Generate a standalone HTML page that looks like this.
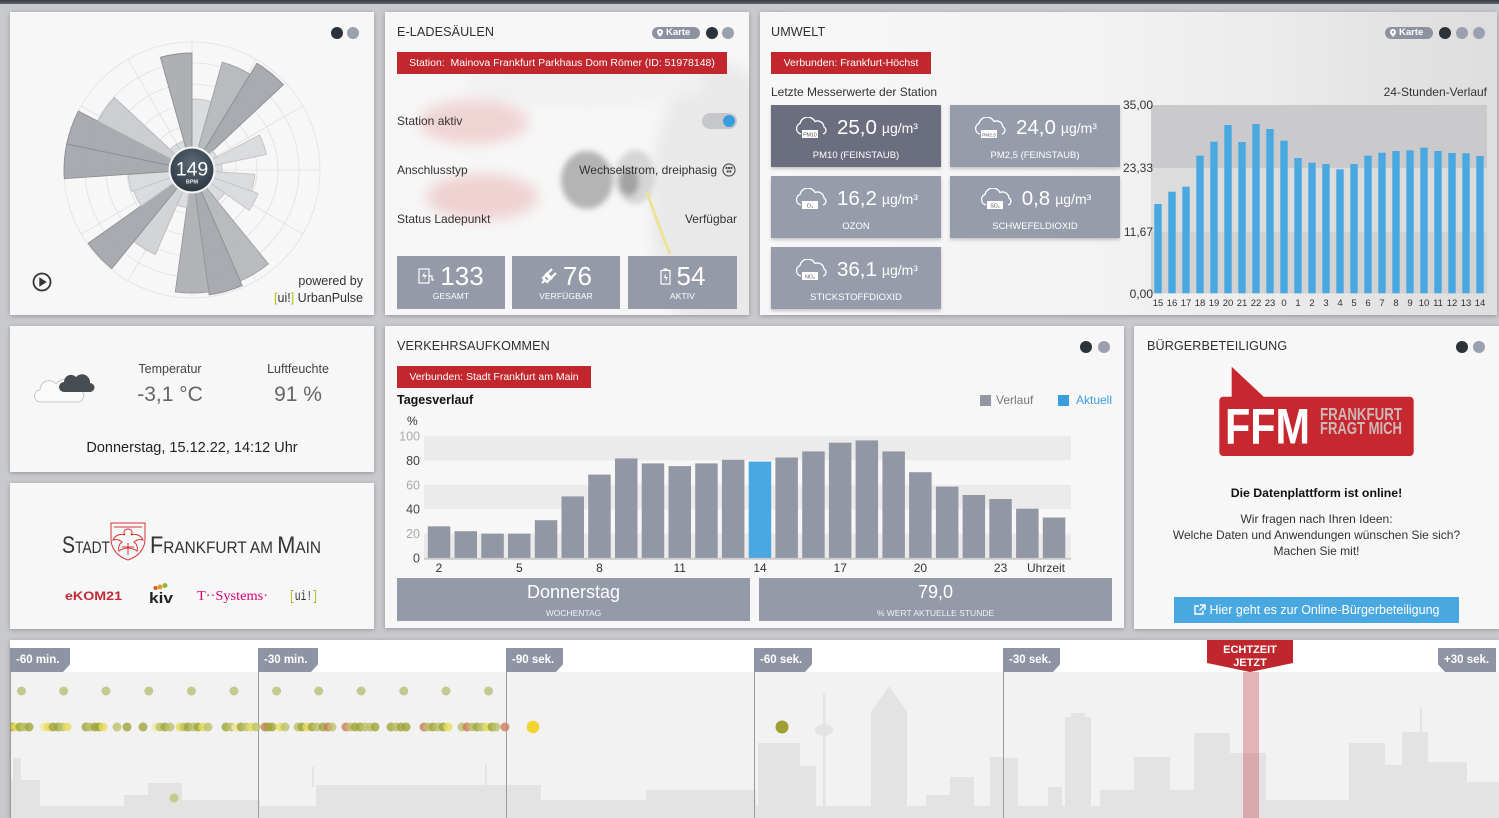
<!DOCTYPE html>
<html lang="de"><head><meta charset="utf-8"><title>Dashboard</title>
<style>
*{margin:0;padding:0;box-sizing:border-box}
html,body{width:1499px;height:818px;overflow:hidden}
body{background:#c8c9cd;font-family:"Liberation Sans",Arial,sans-serif;color:#333;position:relative}
.top{position:absolute;left:0;top:0;width:1499px;height:4px;background:linear-gradient(#353a40,#61666c)}
.p{position:absolute;background:#f7f7f7;box-shadow:0 1px 4px rgba(0,0,0,.25);overflow:hidden}
.a{position:absolute;white-space:nowrap;line-height:1}
.ttl{font-size:12.6px;color:#2f2f2f;letter-spacing:.1px}
.red{position:absolute;background:#c1272d;color:#fff;font-size:10.5px;text-align:center;line-height:22px;height:22px;white-space:nowrap}
.pill{position:absolute;height:12px;border-radius:6px;background:#8d92a0;color:#fff;font-size:9.5px;font-weight:bold;line-height:12px;padding-left:14px}
.pill svg{position:absolute;left:5px;top:2px}
.dot{position:absolute;width:12px;height:12px;border-radius:50%}
.dk{background:#2b323a}.gr{background:#9aa0ad}
.box{position:absolute;background:#959aa8;color:#fff;text-align:center}
.box .n{position:absolute;left:0;right:0;top:7px;height:26px;display:flex;justify-content:center;align-items:center;font-size:26px;line-height:1}
.box .n svg{margin-right:6px}
.box .l{position:absolute;left:0;right:0;top:36px;font-size:8.5px;line-height:1;letter-spacing:.1px}
.tile{position:absolute;background:#979cab;color:#fff;box-shadow:0 2px 3px rgba(0,0,0,.2);width:170px;height:62px}
.tile .v{position:absolute;left:0;right:0;top:12px;height:22px;display:flex;justify-content:center;align-items:center;line-height:1;white-space:nowrap}
.tile .v b{font-weight:normal;font-size:20.5px}
.tile .v i{font-style:normal;font-size:14px;margin-left:5px}
.tile .v svg{margin-right:7px}
.tile .l{position:absolute;left:0;right:0;top:46px;font-size:9.5px;text-align:center;line-height:1}
.tab{position:absolute;top:8px;height:24px;background:#8e94a3;color:#fff;font-weight:bold;font-size:11.5px;line-height:24px;padding-left:6px;white-space:nowrap;clip-path:polygon(0 0,100% 0,100% 68%,calc(100% - 7px) 100%,0 100%)}
.row{font-size:12px;color:#333}
.gbox{position:absolute;background:#959aa8;color:#fff;text-align:center;height:43px;width:353px;top:252px}
</style></head>
<body>
<div class="top"></div>

<!-- Panel 1: rose -->
<div class="p" style="left:10px;top:12px;width:364px;height:303px">
<svg width="364" height="303" style="position:absolute;left:0;top:0">
<defs><radialGradient id="bg1" cx="50%" cy="35%" r="65%"><stop offset="0" stop-color="#5b6a77"/><stop offset="1" stop-color="#2c3842"/></radialGradient></defs>
<g transform="translate(0,3)">
<g stroke="#e0e0e0" stroke-width="0.8" fill="none">
<circle cx="182" cy="155" r="128"/><circle cx="182" cy="155" r="107"/><circle cx="182" cy="155" r="86"/><circle cx="182" cy="155" r="65"/><circle cx="182" cy="155" r="44"/>
<line x1="182" y1="27" x2="182" y2="283"/><line x1="246" y1="44.2" x2="118" y2="265.8"/><line x1="292.8" y1="91" x2="71.2" y2="219"/><line x1="310" y1="155" x2="54" y2="155"/><line x1="292.8" y1="219" x2="71.2" y2="91"/><line x1="246" y1="265.8" x2="118" y2="44.2"/>
</g>
<g stroke-width="0.9" fill-opacity="0.92">
<path d="M182 155L182 84A71 71 0 0 1 201.2 86.6Z" fill="#d8d9db" stroke="#c2c3c6"/>
<path d="M182 155L212.2 47.2A112 112 0 0 1 240.2 59.3Z" fill="#b3b5b9" stroke="#9ea0a4"/>
<path d="M182 155L247 48.2A125 125 0 0 1 273.4 69.7Z" fill="#a2a4a9" stroke="#8d8f94"/>
<path d="M182 155L202.5 135.9A28 28 0 0 1 206.9 142.1Z" fill="#d8d9db" stroke="#c2c3c6"/>
<path d="M182 155L249.5 120A76 76 0 0 1 256.4 139.5Z" fill="#d8d9db" stroke="#c2c3c6"/>
<path d="M182 155L211.4 148.9A30 30 0 0 1 211.9 157Z" fill="#d8d9db" stroke="#c2c3c6"/>
<path d="M182 155L244.9 159.3A63 63 0 0 1 241.4 176.1Z" fill="#d8d9db" stroke="#c2c3c6"/>
<path d="M182 155L248 178.4A70 70 0 0 1 239.2 195.4Z" fill="#d8d9db" stroke="#c2c3c6"/>
<path d="M182 155L214.7 178.1A40 40 0 0 1 207.2 186Z" fill="#d8d9db" stroke="#c2c3c6"/>
<path d="M182 155L258.4 248.9A121 121 0 0 1 230.2 266Z" fill="#b3b5b9" stroke="#9ea0a4"/>
<path d="M182 155L232.2 270.6A126 126 0 0 1 199.2 279.8Z" fill="#a2a4a9" stroke="#8d8f94"/>
<path d="M182 155L198.8 276.9A123 123 0 0 1 165.3 276.9Z" fill="#aaacb1" stroke="#96989c"/>
<path d="M182 155L176.8 192.7A38 38 0 0 1 166.9 189.9Z" fill="#d8d9db" stroke="#c2c3c6"/>
<path d="M182 155L145.4 239.4A92 92 0 0 1 123.9 226.4Z" fill="#cfd0d3" stroke="#b9babd"/>
<path d="M182 155L101.9 253.5A127 127 0 0 1 78.2 228.2Z" fill="#a2a4a9" stroke="#8d8f94"/>
<path d="M182 155L131.4 190.8A62 62 0 0 1 123.6 175.8Z" fill="#d8d9db" stroke="#c2c3c6"/>
<path d="M182 155L121.7 176.4A64 64 0 0 1 118.2 159.4Z" fill="#d8d9db" stroke="#c2c3c6"/>
<path d="M182 155L54.3 163.7A128 128 0 0 1 56.7 129Z" fill="#a2a4a9" stroke="#8d8f94"/>
<path d="M182 155L56.7 129A128 128 0 0 1 68.4 96.1Z" fill="#a2a4a9" stroke="#8d8f94"/>
<path d="M182 155L87.9 106.2A106 106 0 0 1 104.5 82.6Z" fill="#c9cacd" stroke="#b3b4b7"/>
<path d="M182 155L160.1 134.5A30 30 0 0 1 166.4 129.4Z" fill="#d8d9db" stroke="#c2c3c6"/>
<path d="M182 155L166.4 129.4A30 30 0 0 1 173.9 126.1Z" fill="#d8d9db" stroke="#c2c3c6"/>
<path d="M182 155L150.4 42.3A117 117 0 0 1 182 38Z" fill="#a7a9ae" stroke="#8d8f94"/>
</g>
<circle cx="182" cy="155" r="23.5" fill="#f4f4f4"/>
<circle cx="182" cy="155" r="21.5" fill="url(#bg1)"/>
<text x="182" y="160.5" text-anchor="middle" font-family="Liberation Sans,sans-serif" font-size="19.5" fill="#fff">149</text>
<text x="182" y="168.5" text-anchor="middle" font-family="Liberation Sans,sans-serif" font-size="5.5" font-weight="bold" fill="#e8e8e8">BPM</text>
</g>
<circle cx="327" cy="21" r="6" fill="#2b323a"/><circle cx="343" cy="21" r="6" fill="#9aa0ad"/>
<circle cx="32" cy="270" r="8.5" stroke="#333" stroke-width="1.8" fill="none"/><path d="M29.3 265.3L36.8 270L29.3 274.7Z" fill="#333"/>
</svg>
<div class="a" style="right:11px;top:263px;font-size:12.5px;color:#333">powered by</div>
<div class="a" style="right:11px;top:280px;font-size:12.5px;color:#333"><span style="color:#b5c200">[</span>ui!<span style="color:#b5c200">]</span> UrbanPulse</div>
</div>

<!-- Panel 2: E-Ladesäulen -->
<div class="p" style="left:385px;top:12px;width:364px;height:303px">
<svg width="364" height="303" style="position:absolute;left:0;top:0">
<defs><filter id="bl" x="-50%" y="-50%" width="200%" height="200%"><feGaussianBlur stdDeviation="7"/></filter><filter id="bl2" x="-50%" y="-50%" width="200%" height="200%"><feGaussianBlur stdDeviation="3"/></filter></defs>
<g filter="url(#bl)">
<ellipse cx="335" cy="190" rx="70" ry="140" fill="#e9e9e9"/>
<ellipse cx="200" cy="70" rx="120" ry="25" fill="#f1f1f1"/>
<ellipse cx="88" cy="110" rx="55" ry="22" fill="#f0d3d3"/>
<ellipse cx="97" cy="185" rx="56" ry="23" fill="#efd1d1"/>
</g>
<g filter="url(#bl2)">
<ellipse cx="202" cy="168" rx="26" ry="29" fill="#b4b4b4"/>
<ellipse cx="250" cy="165" rx="20" ry="27" fill="#d6d6d6"/>
<ellipse cx="244" cy="170" rx="10" ry="14" fill="#a3a3a3"/>
</g>
<path d="M262 180 Q272 210 285 242" stroke="#ebe39a" stroke-width="3" fill="none"/>
<circle cx="327" cy="21" r="6" fill="#2b323a"/><circle cx="343" cy="21" r="6" fill="#9aa0ad"/>
</svg>
<div class="a ttl" style="left:12px;top:14px">E-LADESÄULEN</div>
<div class="pill" style="left:267px;top:15px;width:48px"><svg width="6" height="8"><path d="M3 0a3 3 0 0 1 3 3c0 2-3 5-3 5s-3-3-3-5a3 3 0 0 1 3-3z" fill="#fff"/><circle cx="3" cy="3" r="1.1" fill="#8d92a0"/></svg>Karte</div>
<div class="red" style="left:12px;top:40px;width:330px">Station:&nbsp; Mainova Frankfurt Parkhaus Dom Römer (ID: 51978148)</div>
<div class="a row" style="left:12px;top:103px">Station aktiv</div>
<div style="position:absolute;left:317px;top:101px;width:35px;height:16px;border-radius:8px;background:#c6c7ca"></div>
<div style="position:absolute;left:338px;top:103px;width:12px;height:12px;border-radius:50%;background:#3a9de0"></div>
<div class="a row" style="left:12px;top:152px">Anschlusstyp</div>
<div class="a row" style="right:32px;top:152px">Wechselstrom, dreiphasig</div>
<svg style="position:absolute;left:337px;top:151px" width="14" height="14"><circle cx="7" cy="7" r="6" fill="none" stroke="#555" stroke-width="1.2"/><g fill="#555"><circle cx="4.5" cy="5" r="1.2"/><circle cx="7" cy="5" r="1.2"/><circle cx="9.5" cy="5" r="1.2"/><circle cx="5.7" cy="8.5" r="1.2"/><circle cx="8.3" cy="8.5" r="1.2"/></g></svg>
<div class="a row" style="left:12px;top:201px">Status Ladepunkt</div>
<div class="a row" style="right:12px;top:201px">Verfügbar</div>
<div class="box" style="left:12px;top:244px;width:108px;height:53px"><div class="n"><svg width="16" height="17"><rect x="1" y="1" width="10" height="14" fill="none" stroke="#fff" stroke-width="1.2"/><path d="M7 3L4 8.5h3L5 13l4-6H6z" fill="#fff"/><path d="M11 8h3v4h2" stroke="#fff" fill="none" stroke-width="1.2"/></svg>133</div><div class="l">GESAMT</div></div>
<div class="box" style="left:127px;top:244px;width:108px;height:53px"><div class="n"><svg width="17" height="17"><path d="M2 15l4-4M6 7l4 4-3 3-4-4zM8 5l4-4M12 9l4-4" stroke="#fff" stroke-width="2.2" fill="none"/><path d="M5 6l6 6 2-2-6-6z" fill="#fff"/></svg>76</div><div class="l">VERFÜGBAR</div></div>
<div class="box" style="left:243px;top:244px;width:109px;height:53px"><div class="n"><svg width="11" height="17"><rect x="1" y="2.5" width="9" height="13.5" fill="none" stroke="#fff" stroke-width="1.2"/><rect x="3.5" y="0.5" width="4" height="2" fill="#fff"/><path d="M6 5L3.5 10h2.5L5 14l3-5H5.5z" fill="#fff"/></svg>54</div><div class="l">AKTIV</div></div>
</div>

<!-- Panel 3: Umwelt -->
<div class="p" style="left:760px;top:12px;width:737px;height:303px;background:linear-gradient(90deg,#f7f7f7 0%,#f3f3f3 45%,#ebebeb 70%,#e2e2e2 88%,#dedede 100%)">
<div class="a ttl" style="left:11px;top:14px">UMWELT</div>
<div class="red" style="left:11px;top:40px;width:160px">Verbunden: Frankfurt-Höchst</div>
<div class="a" style="left:11px;top:74px;font-size:12px">Letzte Messerwerte der Station</div>
<div class="pill" style="left:625px;top:15px;width:48px"><svg width="6" height="8"><path d="M3 0a3 3 0 0 1 3 3c0 2-3 5-3 5s-3-3-3-5a3 3 0 0 1 3-3z" fill="#fff"/><circle cx="3" cy="3" r="1.1" fill="#8d92a0"/></svg>Karte</div>
<div class="dot dk" style="left:679px;top:15px"></div><div class="dot gr" style="left:696px;top:15px"></div><div class="dot gr" style="left:713px;top:15px"></div>

<div class="tile" style="left:11px;top:93px;background:#6b6e7e"><div class="v"><svg width="36" height="22"><path d="M7 17a5.5 5.5 0 0 1 -1-10.5a8 8 0 0 1 15-2a6.5 6.5 0 0 1 9 5.5a3.8 3.8 0 0 1 -1 7" fill="none" stroke="#fff" stroke-width="1.3"/><rect x="8" y="13" width="16" height="8" fill="#fff"/><text x="16" y="19.3" font-size="5.2" text-anchor="middle" fill="#555" font-family="Liberation Sans">PM10</text></svg><b>25,0</b><i>µg/m³</i></div><div class="l">PM10 (FEINSTAUB)</div></div>
<div class="tile" style="left:190px;top:93px"><div class="v"><svg width="36" height="22"><path d="M7 17a5.5 5.5 0 0 1 -1-10.5a8 8 0 0 1 15-2a6.5 6.5 0 0 1 9 5.5a3.8 3.8 0 0 1 -1 7" fill="none" stroke="#fff" stroke-width="1.3"/><rect x="8" y="13" width="16" height="8" fill="#fff"/><text x="16" y="19.3" font-size="4.8" text-anchor="middle" fill="#555" font-family="Liberation Sans">PM2.5</text></svg><b>24,0</b><i>µg/m³</i></div><div class="l">PM2,5 (FEINSTAUB)</div></div>
<div class="tile" style="left:11px;top:164px"><div class="v"><svg width="36" height="22"><path d="M7 17a5.5 5.5 0 0 1 -1-10.5a8 8 0 0 1 15-2a6.5 6.5 0 0 1 9 5.5a3.8 3.8 0 0 1 -1 7" fill="none" stroke="#fff" stroke-width="1.3"/><rect x="8" y="13" width="16" height="8" fill="#fff"/><text x="16" y="19.3" font-size="5.2" text-anchor="middle" fill="#555" font-family="Liberation Sans">O₃</text></svg><b>16,2</b><i>µg/m³</i></div><div class="l">OZON</div></div>
<div class="tile" style="left:190px;top:164px"><div class="v"><svg width="36" height="22"><path d="M7 17a5.5 5.5 0 0 1 -1-10.5a8 8 0 0 1 15-2a6.5 6.5 0 0 1 9 5.5a3.8 3.8 0 0 1 -1 7" fill="none" stroke="#fff" stroke-width="1.3"/><rect x="8" y="13" width="16" height="8" fill="#fff"/><text x="16" y="19.3" font-size="5.2" text-anchor="middle" fill="#555" font-family="Liberation Sans">SO₂</text></svg><b>0,8</b><i>µg/m³</i></div><div class="l">SCHWEFELDIOXID</div></div>
<div class="tile" style="left:11px;top:235px"><div class="v"><svg width="36" height="22"><path d="M7 17a5.5 5.5 0 0 1 -1-10.5a8 8 0 0 1 15-2a6.5 6.5 0 0 1 9 5.5a3.8 3.8 0 0 1 -1 7" fill="none" stroke="#fff" stroke-width="1.3"/><rect x="8" y="13" width="16" height="8" fill="#fff"/><text x="16" y="19.3" font-size="5.2" text-anchor="middle" fill="#555" font-family="Liberation Sans">NO₂</text></svg><b>36,1</b><i>µg/m³</i></div><div class="l">STICKSTOFFDIOXID</div></div>

<svg width="737" height="303" style="position:absolute;left:0;top:0" font-family="Liberation Sans,sans-serif">
<rect x="391" y="93" width="336" height="63" fill="#cacacc"/>
<rect x="391" y="156" width="336" height="64" fill="#dcdcdd"/>
<rect x="391" y="220" width="336" height="61.3" fill="#d2d2d3"/>
<g fill="#49a7e1">
<rect x="394.3" y="192" width="7.4" height="89.3"/><rect x="408.3" y="179.7" width="7.4" height="101.6"/><rect x="422.3" y="174.7" width="7.4" height="106.6"/><rect x="436.3" y="143.7" width="7.4" height="137.6"/><rect x="450.3" y="129.7" width="7.4" height="151.6"/><rect x="464.3" y="113" width="7.4" height="168.3"/><rect x="478.3" y="130" width="7.4" height="151.3"/><rect x="492.3" y="112" width="7.4" height="169.3"/><rect x="506.3" y="117" width="7.4" height="164.3"/><rect x="520.3" y="128.7" width="7.4" height="152.6"/><rect x="534.3" y="146" width="7.4" height="135.3"/><rect x="548.3" y="150.7" width="7.4" height="130.6"/><rect x="562.3" y="152" width="7.4" height="129.3"/><rect x="576.3" y="157.3" width="7.4" height="124"/><rect x="590.3" y="152" width="7.4" height="129.3"/><rect x="604.3" y="143.7" width="7.4" height="137.6"/><rect x="618.3" y="140.7" width="7.4" height="140.6"/><rect x="632.3" y="139" width="7.4" height="142.3"/><rect x="646.3" y="138.3" width="7.4" height="143"/><rect x="660.3" y="135.7" width="7.4" height="145.6"/><rect x="674.3" y="139" width="7.4" height="142.3"/><rect x="688.3" y="141" width="7.4" height="140.3"/><rect x="702.3" y="141.3" width="7.4" height="140"/><rect x="716.3" y="144" width="7.4" height="137.3"/>
</g>
<g font-size="12" fill="#333" text-anchor="end">
<text x="393" y="97">35,00</text><text x="393" y="160">23,33</text><text x="393" y="224">11,67</text><text x="393" y="286">0,00</text>
</g>
<text x="727" y="84" font-size="12" fill="#333" text-anchor="end">24-Stunden-Verlauf</text>
<g font-size="9.5" fill="#333" text-anchor="middle">
<text x="398" y="294">15</text><text x="412" y="294">16</text><text x="426" y="294">17</text><text x="440" y="294">18</text><text x="454" y="294">19</text><text x="468" y="294">20</text><text x="482" y="294">21</text><text x="496" y="294">22</text><text x="510" y="294">23</text><text x="524" y="294">0</text><text x="538" y="294">1</text><text x="552" y="294">2</text><text x="566" y="294">3</text><text x="580" y="294">4</text><text x="594" y="294">5</text><text x="608" y="294">6</text><text x="622" y="294">7</text><text x="636" y="294">8</text><text x="650" y="294">9</text><text x="664" y="294">10</text><text x="678" y="294">11</text><text x="692" y="294">12</text><text x="706" y="294">13</text><text x="720" y="294">14</text>
</g>
</svg>
</div>

<!-- Weather -->
<div class="p" style="left:10px;top:326px;width:364px;height:146px">
<svg width="100" height="90" style="position:absolute;left:0;top:0">
<path d="M31 76a6 6 0 0 1 -1-12a9 9 0 0 1 16-6a11 11 0 0 1 20 5a6.5 6.5 0 0 1 2 13Z" fill="#fafafa" stroke="#c9c9c9" stroke-width="1"/>
<path d="M54 66a5 5 0 0 1 0-10a7 7 0 0 1 12-5a8 8 0 0 1 14 6a4.5 4.5 0 0 1 0 9Z" fill="#474c52"/>
</svg>
<div class="a" style="left:110px;width:100px;text-align:center;top:37px;font-size:12.5px;color:#444">Temperatur</div>
<div class="a" style="left:100px;width:120px;text-align:center;top:58px;font-size:21px;color:#666">-3,1 °C</div>
<div class="a" style="left:238px;width:100px;text-align:center;top:37px;font-size:12.5px;color:#444">Luftfeuchte</div>
<div class="a" style="left:228px;width:120px;text-align:center;top:58px;font-size:21px;color:#666">91 %</div>
<div class="a" style="left:0;width:364px;text-align:center;top:115px;font-size:14.5px;color:#222">Donnerstag, 15.12.22, 14:12 Uhr</div>
</div>

<!-- Logos -->
<div class="p" style="left:10px;top:483px;width:364px;height:146px">
<svg width="364" height="146" style="position:absolute;left:0;top:0">
<text x="52" y="70" font-family="Liberation Sans,sans-serif" fill="#333" textLength="48" lengthAdjust="spacingAndGlyphs"><tspan font-size="24">S</tspan><tspan font-size="17">TADT</tspan></text>
<g stroke="#d2353a" fill="none" stroke-width="1">
<path d="M101 40h34v16c0 11-8 18-17 21c-9-3-17-10-17-21z"/>
<path d="M118 46c-4 0-5 4-3 6c-6-2-10 1-12 5c4-1 7 0 9 2c-3 2-4 6-3 9c3-2 6-3 9-3c3 0 6 1 9 3c1-3 0-7-3-9c2-2 5-3 9-2c-2-4-6-7-12-5c2-2 1-6-3-6z"/>
<path d="M104 44h28M118 60v12M112 64h12"/>
</g>
<text x="140" y="70" font-family="Liberation Sans,sans-serif" fill="#333" textLength="171" lengthAdjust="spacingAndGlyphs"><tspan font-size="24">F</tspan><tspan font-size="17">RANKFURT </tspan><tspan font-size="17">AM </tspan><tspan font-size="24">M</tspan><tspan font-size="17">AIN</tspan></text>
<text x="55" y="117" font-family="Liberation Sans,sans-serif" font-size="12" font-weight="bold" fill="#c22a35" textLength="57" lengthAdjust="spacingAndGlyphs">eKOM21</text>
<circle cx="150" cy="104" r="2.5" fill="#e89a2c"/><circle cx="155" cy="102.5" r="2.5" fill="#8fb83a"/><circle cx="145.5" cy="105" r="2" fill="#d9572b"/>
<text x="139" y="120" font-family="Liberation Sans,sans-serif" font-size="15" font-weight="bold" fill="#222" textLength="24" lengthAdjust="spacingAndGlyphs">kiv</text>
<text x="187" y="117" font-family="Liberation Serif,serif" font-size="14" fill="#d6006f" textLength="71" lengthAdjust="spacingAndGlyphs">T··Systems·</text>
<text x="279" y="117" font-family="Liberation Mono,monospace" font-size="14" fill="#333" textLength="29" lengthAdjust="spacingAndGlyphs"><tspan fill="#a9b30a">[</tspan>ui!<tspan fill="#a9b30a">]</tspan></text>
</svg>
</div>

<!-- Verkehr -->
<div class="p" style="left:385px;top:326px;width:739px;height:302px">
<div class="a ttl" style="left:12px;top:14px">VERKEHRSAUFKOMMEN</div>
<div class="dot dk" style="left:695px;top:15px"></div><div class="dot gr" style="left:713px;top:15px"></div>
<div class="red" style="left:12px;top:40px;width:194px">Verbunden: Stadt Frankfurt am Main</div>
<div class="a" style="left:12px;top:68px;font-size:12.5px;font-weight:bold;color:#111">Tagesverlauf</div>
<div style="position:absolute;left:595px;top:69px;width:11px;height:11px;background:#9297a4"></div>
<div class="a" style="left:611px;top:68px;font-size:12px;color:#777">Verlauf</div>
<div style="position:absolute;left:673px;top:69px;width:11px;height:11px;background:#3a9de0"></div>
<div class="a" style="left:691px;top:68px;font-size:12px;color:#3a9de0">Aktuell</div>
<svg width="739" height="302" style="position:absolute;left:0;top:0" font-family="Liberation Sans,sans-serif">
<text x="22" y="99" font-size="12" fill="#333">%</text>
<rect x="39" y="110" width="647" height="24.4" fill="#ebebeb"/>
<rect x="39" y="158.8" width="647" height="24.4" fill="#ebebeb"/>
<rect x="39" y="207.6" width="647" height="24.4" fill="#ebebeb"/>
<g font-size="12.5" text-anchor="end">
<text x="35" y="114.5" fill="#aaa">100</text><text x="35" y="138.9" fill="#444">80</text><text x="35" y="163.3" fill="#aaa">60</text><text x="35" y="187.7" fill="#444">40</text><text x="35" y="212.1" fill="#aaa">20</text><text x="35" y="236.5" fill="#444">0</text>
</g>
<g fill="#9297a4">
<rect x="42.8" y="200.3" width="22.5" height="31.7"/><rect x="69.5" y="205.2" width="22.5" height="26.8"/><rect x="96.3" y="207.6" width="22.5" height="24.4"/><rect x="123" y="207.6" width="22.5" height="24.4"/><rect x="149.8" y="194.2" width="22.5" height="37.8"/><rect x="176.5" y="170.4" width="22.5" height="61.6"/><rect x="203.2" y="148.6" width="22.5" height="83.4"/><rect x="230" y="132.4" width="22.5" height="99.6"/><rect x="256.7" y="137.4" width="22.5" height="94.6"/><rect x="283.5" y="140.1" width="22.5" height="91.9"/><rect x="310.2" y="137.4" width="22.5" height="94.6"/><rect x="336.9" y="133.8" width="22.5" height="98.2"/><rect x="390.4" y="131.5" width="22.5" height="100.5"/><rect x="417.2" y="125.4" width="22.5" height="106.6"/><rect x="443.9" y="116.7" width="22.5" height="115.3"/><rect x="470.6" y="114.4" width="22.5" height="117.6"/><rect x="497.4" y="125.4" width="22.5" height="106.6"/><rect x="524.1" y="146.2" width="22.5" height="85.8"/><rect x="550.9" y="160.6" width="22.5" height="71.4"/><rect x="577.6" y="169" width="22.5" height="63"/><rect x="604.3" y="173" width="22.5" height="59"/><rect x="631.1" y="182.7" width="22.5" height="49.3"/><rect x="657.8" y="191.5" width="22.5" height="40.5"/>
</g>
<rect x="363.7" y="135.6" width="22.5" height="96.4" fill="#49a7e1"/>
<line x1="39" y1="232.8" x2="686" y2="232.8" stroke="#cacaca" stroke-width="1.8"/>
<g font-size="12" fill="#333" text-anchor="middle">
<text x="54" y="246">2</text><text x="134.3" y="246">5</text><text x="214.5" y="246">8</text><text x="294.7" y="246">11</text><text x="375" y="246">14</text><text x="455.2" y="246">17</text><text x="535.4" y="246">20</text><text x="615.6" y="246">23</text><text x="661" y="246">Uhrzeit</text>
</g>
</svg>
<div class="gbox" style="left:12px"><div class="a" style="left:0;right:0;top:5px;font-size:18px">Donnerstag</div><div class="a" style="left:0;right:0;top:31px;font-size:8.5px;color:#eef0f4">WOCHENTAG</div></div>
<div class="gbox" style="left:374px"><div class="a" style="left:0;right:0;top:5px;font-size:18px">79,0</div><div class="a" style="left:0;right:0;top:31px;font-size:8.5px;color:#eef0f4">% WERT AKTUELLE STUNDE</div></div>
</div>

<!-- Bürgerbeteiligung -->
<div class="p" style="left:1134px;top:326px;width:365px;height:303px">
<div class="a ttl" style="left:13px;top:14px">BÜRGERBETEILIGUNG</div>
<div class="dot dk" style="left:322px;top:15px"></div><div class="dot gr" style="left:339px;top:15px"></div>
<svg width="365" height="140" style="position:absolute;left:0;top:0" font-family="Liberation Sans,sans-serif">
<path d="M97.7 40.7L97.7 72L131 72Z" fill="#c7282f"/>
<rect x="85.3" y="70.7" width="194.4" height="59.3" rx="4" fill="#c7282f"/>
<text x="91" y="117.3" font-size="50" font-weight="bold" fill="#fff" textLength="85" lengthAdjust="spacingAndGlyphs">FFM</text>
<text x="186" y="94" font-size="17.5" font-weight="bold" fill="#cdb8b9" textLength="82" lengthAdjust="spacingAndGlyphs">FRANKFURT</text>
<text x="186" y="108" font-size="17.5" font-weight="bold" fill="#cdb8b9" textLength="82" lengthAdjust="spacingAndGlyphs">FRAGT MICH</text>
</svg>
<div class="a" style="left:0;width:365px;text-align:center;top:161px;font-size:12.3px;font-weight:bold;color:#111">Die Datenplattform ist online!</div>
<div class="a" style="left:0;width:365px;text-align:center;top:187px;font-size:12px;color:#333">Wir fragen nach Ihren Ideen:</div>
<div class="a" style="left:0;width:365px;text-align:center;top:203px;font-size:12px;color:#333">Welche Daten und Anwendungen wünschen Sie sich?</div>
<div class="a" style="left:0;width:365px;text-align:center;top:219px;font-size:12px;color:#333">Machen Sie mit!</div>
<div style="position:absolute;left:40px;top:271px;width:285px;height:26px;background:#4aa8e0;color:#fff;font-size:12.5px;line-height:26px;text-align:center;white-space:nowrap"><svg width="12" height="11" style="vertical-align:-1px;margin-right:4px"><path d="M9 6.5V10H1V2h4" fill="none" stroke="#fff" stroke-width="1.4"/><path d="M6 1h5v5M11 1L5.5 6.5" fill="none" stroke="#fff" stroke-width="1.4"/></svg>Hier geht es zur Online-Bürgerbeteiligung</div>
</div>

<!-- Timeline -->
<div class="p" style="left:10px;top:640px;width:1489px;height:178px;background:#fff">
<svg width="1489" height="178" style="position:absolute;left:0;top:0">
<rect x="0" y="32" width="1489" height="146" fill="#f2f2f2"/>
<g fill="#e3e3e3">
<rect x="0" y="140" width="30" height="38"/><rect x="3" y="118" width="8" height="22"/>
<rect x="114" y="155" width="29" height="23"/><rect x="138" y="143" width="34" height="35"/><rect x="172" y="160" width="78" height="18"/>
<rect x="306" y="145" width="225" height="33"/><rect x="302" y="127" width="2" height="20"/><rect x="475" y="125" width="2" height="22"/>
<rect x="531" y="160" width="105" height="18"/><rect x="636" y="150" width="110" height="28"/>
<rect x="748" y="103" width="42" height="75"/><rect x="790" y="126" width="16" height="52"/>
<rect x="813" y="53" width="2.5" height="125"/><ellipse cx="814" cy="90" rx="9" ry="5.5"/>
<rect x="861" y="72" width="36" height="106"/><path d="M861 72L879 46L897 72Z"/>
<rect x="916" y="155" width="24" height="23"/><rect x="940" y="137" width="24" height="41"/>
<rect x="980" y="117" width="13" height="61"/><rect x="993" y="118" width="15" height="60"/>
<rect x="1038" y="147" width="14" height="31"/><rect x="1055" y="77" width="26" height="101"/><rect x="1061" y="73" width="14" height="5"/>
<rect x="1090" y="150" width="34" height="28"/><rect x="1124" y="117" width="36" height="61"/><rect x="1160" y="150" width="24" height="28"/>
<rect x="1184" y="93" width="36" height="85"/><rect x="1220" y="113" width="36" height="65"/><rect x="1256" y="160" width="83" height="18"/>
<rect x="1339" y="103" width="36" height="75"/><rect x="1375" y="125" width="17" height="53"/><rect x="1392" y="92" width="26" height="86"/><rect x="1410" y="68" width="2" height="25"/>
<rect x="1418" y="122" width="39" height="56"/><rect x="1457" y="142" width="32" height="36"/>
<rect x="0" y="166" width="1489" height="12"/>
</g>
<g stroke="#9b9b9b" stroke-width="1"><line x1="0.5" y1="8" x2="0.5" y2="178"/><line x1="248.5" y1="8" x2="248.5" y2="178"/><line x1="496.5" y1="8" x2="496.5" y2="178"/><line x1="744.5" y1="8" x2="744.5" y2="178"/><line x1="993.5" y1="8" x2="993.5" y2="178"/></g>
<rect x="1233" y="32" width="16" height="146" fill="#c0272d" fill-opacity="0.3"/>
<polygon points="1197,0 1283,0 1283,23 1240,32 1197,23" fill="#c0272d"/>
<text x="1240" y="13" font-family="Liberation Sans,sans-serif" font-size="11" font-weight="bold" fill="#fff" text-anchor="middle">ECHTZEIT</text>
<text x="1240" y="26" font-family="Liberation Sans,sans-serif" font-size="11" font-weight="bold" fill="#fff" text-anchor="middle">JETZT</text>
<g fill="#c4c98f">
<circle cx="11.5" cy="51" r="4.5"/><circle cx="53.6" cy="51" r="4.5"/><circle cx="96" cy="51" r="4.5"/><circle cx="138.8" cy="51" r="4.5"/><circle cx="181.4" cy="51" r="4.5"/><circle cx="224" cy="51" r="4.5"/><circle cx="266.6" cy="51" r="4.5"/><circle cx="308.7" cy="51" r="4.5"/><circle cx="351.2" cy="51" r="4.5"/><circle cx="393.8" cy="51" r="4.5"/><circle cx="436" cy="51" r="4.5"/><circle cx="478.5" cy="51" r="4.5"/>
<circle cx="164" cy="158" r="4.5"/>
</g>
<g fill-opacity="0.8">
<circle cx="2" cy="87" r="4.5" fill="#9fa436"/><circle cx="6" cy="87" r="4.5" fill="#e8dc5c"/><circle cx="10" cy="87" r="4.5" fill="#9fa436"/><circle cx="14" cy="87" r="4.5" fill="#bcc06a"/><circle cx="19" cy="87" r="4.5" fill="#9fa436"/>
<circle cx="34" cy="87" r="4.5" fill="#f1eaa4"/><circle cx="38" cy="87" r="4.5" fill="#e8dc5c"/><circle cx="43" cy="87" r="4.5" fill="#9fa436"/><circle cx="48" cy="87" r="4.5" fill="#9fa436"/><circle cx="52" cy="87" r="4.5" fill="#bcc06a"/><circle cx="57" cy="87" r="4.5" fill="#e8dc5c"/>
<circle cx="76" cy="87" r="4.5" fill="#9fa436"/><circle cx="80" cy="87" r="4.5" fill="#bcc06a"/><circle cx="85" cy="87" r="4.5" fill="#9fa436"/><circle cx="89" cy="87" r="4.5" fill="#9fa436"/><circle cx="93" cy="87" r="4.5" fill="#e8dc5c"/>
<circle cx="107" cy="87" r="4.5" fill="#bcc06a"/><circle cx="117" cy="87" r="4.5" fill="#9fa436"/><circle cx="133" cy="87" r="4.5" fill="#9fa436"/>
<circle cx="146" cy="87" r="4.5" fill="#f1eaa4"/><circle cx="150" cy="87" r="4.5" fill="#bcc06a"/><circle cx="155" cy="87" r="4.5" fill="#9fa436"/><circle cx="160" cy="87" r="4.5" fill="#bcc06a"/>
<circle cx="170" cy="87" r="4.5" fill="#e8dc5c"/><circle cx="174" cy="87" r="4.5" fill="#bcc06a"/><circle cx="178" cy="87" r="4.5" fill="#9fa436"/><circle cx="183" cy="87" r="4.5" fill="#bcc06a"/><circle cx="188" cy="87" r="4.5" fill="#9fa436"/><circle cx="193" cy="87" r="4.5" fill="#e8dc5c"/><circle cx="198" cy="87" r="4.5" fill="#bcc06a"/>
<circle cx="216" cy="87" r="4.5" fill="#9fa436"/><circle cx="221" cy="87" r="4.5" fill="#bcc06a"/><circle cx="226" cy="87" r="4.5" fill="#f1eaa4"/><circle cx="231" cy="87" r="4.5" fill="#9fa436"/><circle cx="236" cy="87" r="4.5" fill="#bcc06a"/><circle cx="241" cy="87" r="4.5" fill="#e8dc5c"/><circle cx="246" cy="87" r="4.5" fill="#bcc06a"/>
<circle cx="255" cy="87" r="4.5" fill="#cc7a5c"/><circle cx="258" cy="87" r="4.5" fill="#9fa436"/><circle cx="262" cy="87" r="4.5" fill="#9fa436"/><circle cx="270" cy="87" r="4.5" fill="#e8dc5c"/><circle cx="275" cy="87" r="4.5" fill="#bcc06a"/>
<circle cx="288" cy="87" r="4.5" fill="#bcc06a"/><circle cx="292" cy="87" r="4.5" fill="#9fa436"/><circle cx="297" cy="87" r="4.5" fill="#e8dc5c"/><circle cx="302" cy="87" r="4.5" fill="#9fa436"/><circle cx="307" cy="87" r="4.5" fill="#bcc06a"/><circle cx="313" cy="87" r="4.5" fill="#9fa436"/><circle cx="318" cy="87" r="4.5" fill="#cc7a5c"/><circle cx="322" cy="87" r="4.5" fill="#bcc06a"/>
<circle cx="336" cy="87" r="4.5" fill="#cc7a5c"/><circle cx="340" cy="87" r="4.5" fill="#bcc06a"/><circle cx="345" cy="87" r="4.5" fill="#9fa436"/><circle cx="350" cy="87" r="4.5" fill="#9fa436"/><circle cx="355" cy="87" r="4.5" fill="#bcc06a"/><circle cx="360" cy="87" r="4.5" fill="#bcc06a"/><circle cx="365" cy="87" r="4.5" fill="#9fa436"/>
<circle cx="381" cy="87" r="4.5" fill="#9fa436"/><circle cx="386" cy="87" r="4.5" fill="#bcc06a"/><circle cx="391" cy="87" r="4.5" fill="#9fa436"/><circle cx="396" cy="87" r="4.5" fill="#9fa436"/>
<circle cx="414" cy="87" r="4.5" fill="#cc7a5c"/><circle cx="418" cy="87" r="4.5" fill="#bcc06a"/><circle cx="423" cy="87" r="4.5" fill="#9fa436"/><circle cx="428" cy="87" r="4.5" fill="#bcc06a"/><circle cx="433" cy="87" r="4.5" fill="#9fa436"/><circle cx="438" cy="87" r="4.5" fill="#e8dc5c"/>
<circle cx="452" cy="87" r="4.5" fill="#bcc06a"/><circle cx="457" cy="87" r="4.5" fill="#cc7a5c"/><circle cx="462" cy="87" r="4.5" fill="#bcc06a"/><circle cx="467" cy="87" r="4.5" fill="#9fa436"/><circle cx="472" cy="87" r="4.5" fill="#bcc06a"/><circle cx="477" cy="87" r="4.5" fill="#e8dc5c"/><circle cx="482" cy="87" r="4.5" fill="#9fa436"/><circle cx="486" cy="87" r="4.5" fill="#bcc06a"/>
<circle cx="495" cy="87" r="4.5" fill="#cc7a5c"/>
</g>
<circle cx="523" cy="87" r="6.3" fill="#f0d530"/>
<circle cx="772" cy="87" r="6.5" fill="#9ea032"/>
</svg>
<div class="tab" style="left:0;width:60px">-60 min.</div>
<div class="tab" style="left:248px;width:60px">-30 min.</div>
<div class="tab" style="left:496px;width:57px">-90 sek.</div>
<div class="tab" style="left:744px;width:58px">-60 sek.</div>
<div class="tab" style="left:993px;width:57px">-30 sek.</div>
<div class="tab" style="left:1428px;width:58px;clip-path:polygon(0 68%,7px 100%,100% 100%,100% 0,0 0)">+30 sek.</div>
</div>
</body></html>
